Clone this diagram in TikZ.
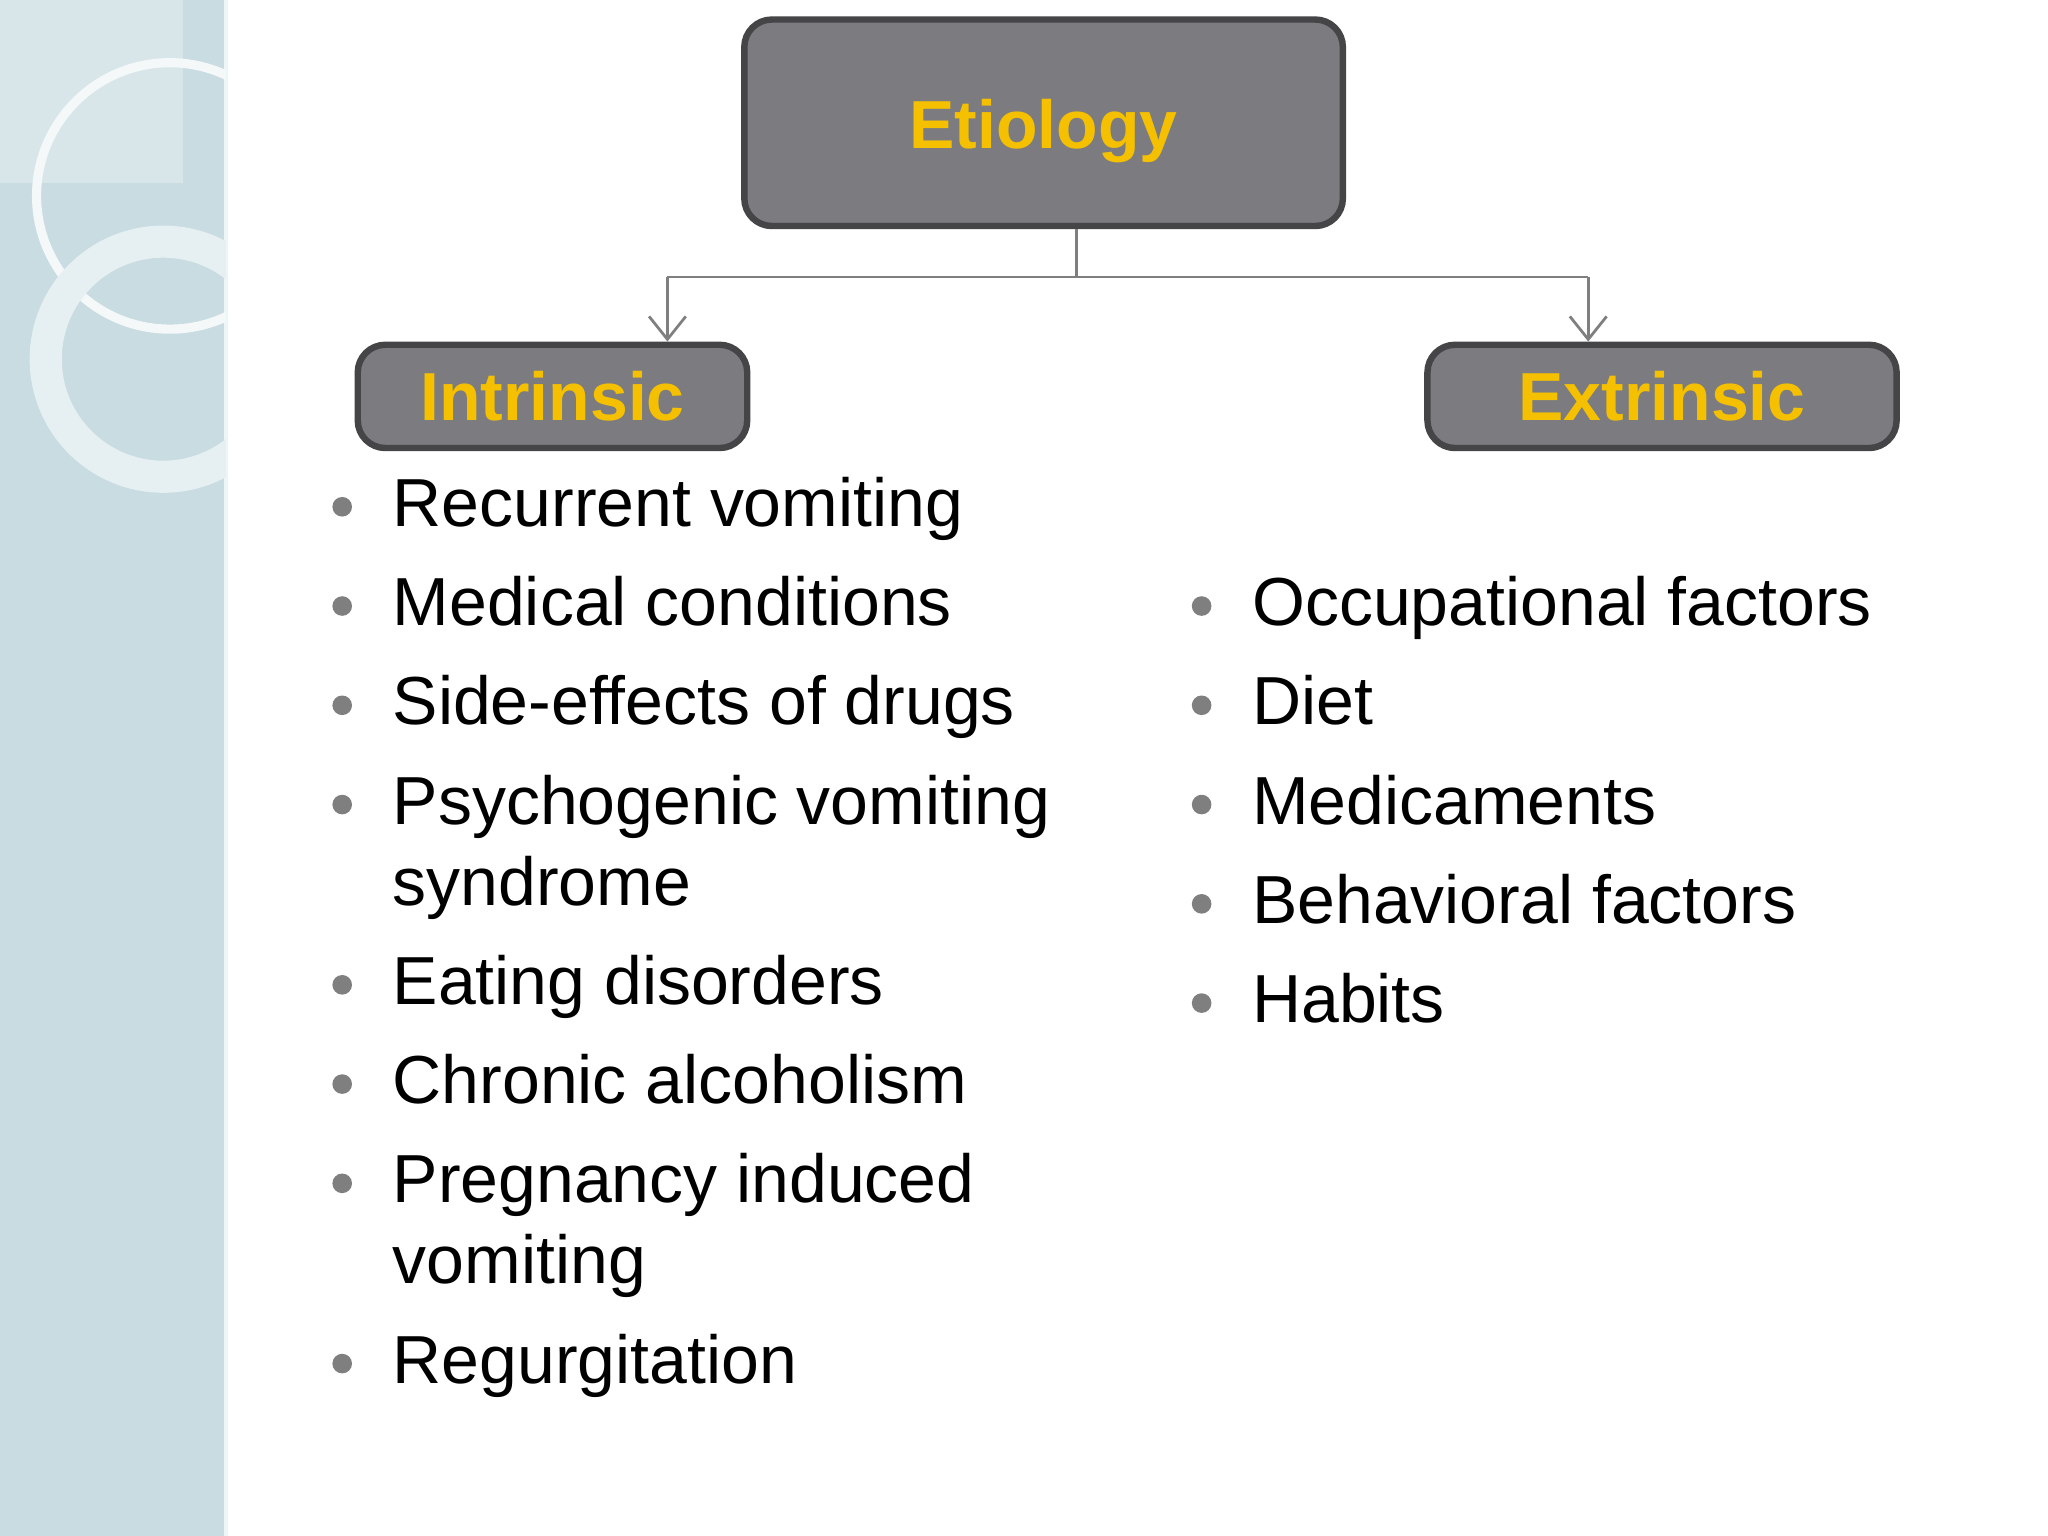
\documentclass[tikz,border=0pt]{standalone}
\usepackage{fontspec}
\setmainfont{Liberation Sans}
\usetikzlibrary{arrows.meta}
\definecolor{strip}{HTML}{C8DCE1}
\definecolor{boxfill}{HTML}{7B7B80}
\definecolor{boxline}{HTML}{454548}
\definecolor{gold}{HTML}{F5C000}
\definecolor{bul}{HTML}{7F7F7F}
\tikzset{
  hbox/.style={draw=boxline,line width=1.4pt,fill=boxfill,rounded corners=6pt,inner sep=0pt},
  htext/.style={text=gold,font=\bfseries\fontsize{14.8pt}{16pt}\selectfont},
  item/.style={anchor=base west,inner sep=0pt,font=\fontsize{14.8pt}{17pt}\selectfont},
  bdot/.style={circle,fill=bul,inner sep=0pt,minimum size=0.15cm},
  conn/.style={draw=bul,line width=0.6pt}
}
\begin{document}
\begin{tikzpicture}[x=0.01cm,y=-0.01cm]
\useasboundingbox (0,0) rectangle (1568,1176);
\fill[white] (0,0) rectangle (1568,1176);
\fill[strip] (0,0) rectangle (173,1176);
\draw[white!70!strip,line width=1pt] (173,0) -- (173,1176);
\fill[white,opacity=0.3] (0,0) rectangle (140,140);
\begin{scope}
\clip (0,0) rectangle (173,1176);
\draw[white!80!strip,line width=2pt] (130,150) circle (102);
\draw[white!55!strip,line width=7pt] (125,275) circle (90);
\end{scope}
% boxes
\node[hbox,minimum width=4.58cm,minimum height=1.58cm] (et) at (799,94) {};
\node[htext] at ([yshift=-0.06cm]et.center) {Etiology};
\node[hbox,minimum width=2.98cm,minimum height=0.79cm] (in) at (423,303.5) {};
\node[htext] at (in) {Intrinsic};
\node[hbox,minimum width=3.59cm,minimum height=0.79cm] (ex) at (1272.5,303.5) {};
\node[htext] at (ex) {Extrinsic};
\coordinate (j) at (824,212);
\coordinate (jl) at (511,212);
\coordinate (jr) at (1216,212);
\draw[conn] (et.south -| j) -- (j);
\draw[conn] (jl) -- (jr);
\draw[conn,-{Straight Barb[length=5pt,width=8pt]}] (jl) -- (jl |- in.north);
\draw[conn,-{Straight Barb[length=5pt,width=8pt]}] (jr) -- (jr |- ex.north);
% left list
\foreach \y/\t [count=\i] in {385/Recurrent vomiting,461/Medical conditions,537/Side-effects of drugs,613/Psychogenic vomiting,751/Eating disorders,827/Chronic alcoholism,903/Pregnancy induced,1041/Regurgitation}{
  \node[bdot] (lb\i) at (262,\y+3) {};
  \node[item] (lt\i) at (300,\y+18) {\t};
}
\node[item] (lc1) at (300,675+18) {syndrome};
\node[item] (lc2) at (300,965+18) {vomiting};
% right list
\foreach \y/\t [count=\i] in {461/Occupational factors,537/Diet,613/Medicaments,689/Behavioral factors,765/Habits}{
  \node[bdot] (rb\i) at (920,\y+3) {};
  \node[item] (rt\i) at (958,\y+18) {\t};
}
\end{tikzpicture}
\end{document}
